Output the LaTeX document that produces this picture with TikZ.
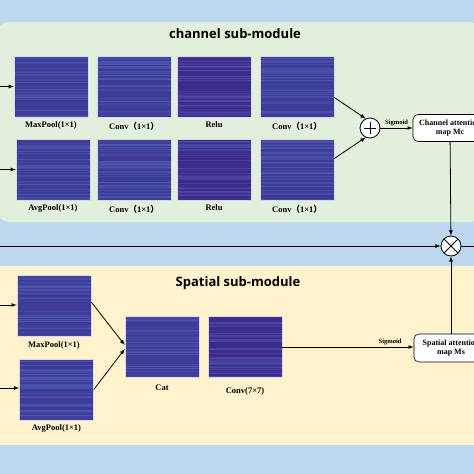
\documentclass[tikz,border=0pt]{standalone}
\usepackage{fontspec}
\setmainfont{Liberation Serif}
\newfontfamily\titlefont{Open Sans}
\newfontfamily\cjk{Noto Sans CJK SC}
\usetikzlibrary{arrows,positioning,calc}

\definecolor{bandblue}{RGB}{189,215,238}
\definecolor{chgreen}{RGB}{226,239,218}
\definecolor{spyellow}{RGB}{255,242,204}
\definecolor{mapblue}{RGB}{62,60,152}
\definecolor{mappurple}{RGB}{62,44,140}
\definecolor{streak}{RGB}{100,135,210}

\tikzset{
  fmap/.style={minimum width=74pt, minimum height=61pt, inner sep=0pt,
    fill=#1, draw=white!80!mapblue, line width=.6pt,
    path picture={
      \foreach \k in {1,...,36}{
        \pgfmathsetmacro{\yy}{rnd}
        \pgfmathtruncatemacro{\cc}{8+28*rnd}
        \draw[streak!\cc!#1, line width=.4pt]
          ($(path picture bounding box.south west)!\yy!(path picture bounding box.north west)$) --
          ($(path picture bounding box.south east)!\yy!(path picture bounding box.north east)$);
      }}},
  fmap/.default=mapblue,
  lbl/.style={font=\bfseries\fontsize{8.5}{9}\selectfont, inner sep=1pt},
  attbox/.style={draw, fill=white, rounded corners=5pt, minimum width=74pt,
    minimum height=27pt, align=center, inner sep=1pt, line width=.6pt,
    font=\bfseries\fontsize{8}{9}\selectfont},
  opcirc/.style={circle, draw, fill=white, minimum size=20pt, inner sep=0pt, line width=.8pt},
  sig/.style={font=\bfseries\fontsize{6.5}{7}\selectfont, inner sep=2pt},
  title/.style={font=\titlefont\bfseries\fontsize{13}{14}\selectfont},
}

\begin{document}
\begin{tikzpicture}[x=1pt, y=-1pt, >=latex, line width=.8pt]
\pgfmathsetseed{4711}
\clip (0,0) rectangle (474,474);
\useasboundingbox (0,0) rectangle (474,474);

% panels
\fill[bandblue] (0,0) rectangle (474,474);
\fill[chgreen, rounded corners=12pt] (-3,22) rectangle (482,222);
\fill[spyellow] (-3,266) rectangle (482,445);
\node[title] (chtitle) at (235,34) {channel sub-module};
\node[title] (sptitle) at (238,283) {Spatial sub-module};

% channel sub-module
\node[fmap] (mp1) at (51,86.5) {};
\node[fmap] (cva) at (134,86.5) {};
\node[fmap=mappurple] (rla) at (214,86.5) {};
\node[fmap] (cvb) at (297,86.5) {};
\node[fmap] (ap1) at (53,169.5) {};
\node[fmap] (cvc) at (134,169.5) {};
\node[fmap=mappurple] (rlb) at (214,169.5) {};
\node[fmap] (cvd) at (297,169.5) {};

\node[lbl, below=3pt of mp1] {MaxPool(1×1)};
\node[lbl, below=3pt of cva] {Conv{\cjk （}1×1{\cjk ）}};
\node[lbl, below=3pt of rla] {Relu};
\node[lbl, below=3pt of cvb] {Conv{\cjk （}1×1{\cjk ）}};
\node[lbl, below=3pt of ap1] {AvgPool(1×1)};
\node[lbl, below=3pt of cvc] {Conv{\cjk （}1×1{\cjk ）}};
\node[lbl, below=3pt of rlb] {Relu};
\node[lbl, below=3pt of cvd] {Conv{\cjk （}1×1{\cjk ）}};

\node[opcirc, path picture={
  \draw (path picture bounding box.center) ++(-6,0) -- ++(12,0);
  \draw (path picture bounding box.center) ++(0,-6) -- ++(0,12);}] (plus) at (370,128) {};
\node[attbox] (chbox) at (450,128) {Channel attention\\map Mc};

\coordinate (inA) at (0,86.5);
\coordinate (inB) at (0,169.5);
\draw[->] (inA) -- (mp1);
\draw[->] (inB) -- (ap1);
\draw[->] ([yshift=-11pt]cvb.east) -- (plus.115);
\draw[->] ([yshift=11pt]cvd.east) -- (plus.245);
\draw[->] (plus) -- node[sig, above, pos=.5] {Sigmoid} (chbox);

% fusion
\node[opcirc, path picture={
  \draw (path picture bounding box.north west) -- (path picture bounding box.south east);
  \draw (path picture bounding box.north east) -- (path picture bounding box.south west);}] (mult) at (451,246) {};
\coordinate (inC) at (0,246);
\coordinate (outC) at (474,246);
\draw[->] (inC) -- (mult);
\draw (mult) -- (outC);

% spatial sub-module
\node[fmap] (mp2) at (54,306) {};
\node[fmap] (ap2) at (56.5,389.5) {};
\node[fmap] (cat) at (162,347) {};
\node[fmap=mappurple] (cv7) at (245,347) {};
\node[lbl, below=3pt of mp2] {MaxPool(1×1)};
\node[lbl, below=3pt of ap2] {AvgPool(1×1)};
\node[lbl, below=6pt of cat] {Cat};
\node[lbl, below=8pt of cv7] {Conv(7×7)};
\node[attbox, minimum height=28pt] (spbox) at (451,348) {Spatial attention\\map Ms};

\coordinate (inD) at (0,305);
\coordinate (inE) at (0,388);
\draw[->] (inD) -- (inD -| mp2.west);
\draw[->] (inE) -- (inE -| ap2.west);
\draw[->] ([yshift=4pt]mp2.east) -- ([yshift=2pt]cat.west);
\draw[->] (ap2.east) -- ([yshift=-2pt]cat.west);
\draw[->] (cv7.east) -- node[sig, above, pos=.82] {Sigmoid} (cv7.east -| spbox.west);

\draw[->] (chbox) -- (mult);
\draw[->] (spbox) -- (mult);
\end{tikzpicture}
\end{document}
